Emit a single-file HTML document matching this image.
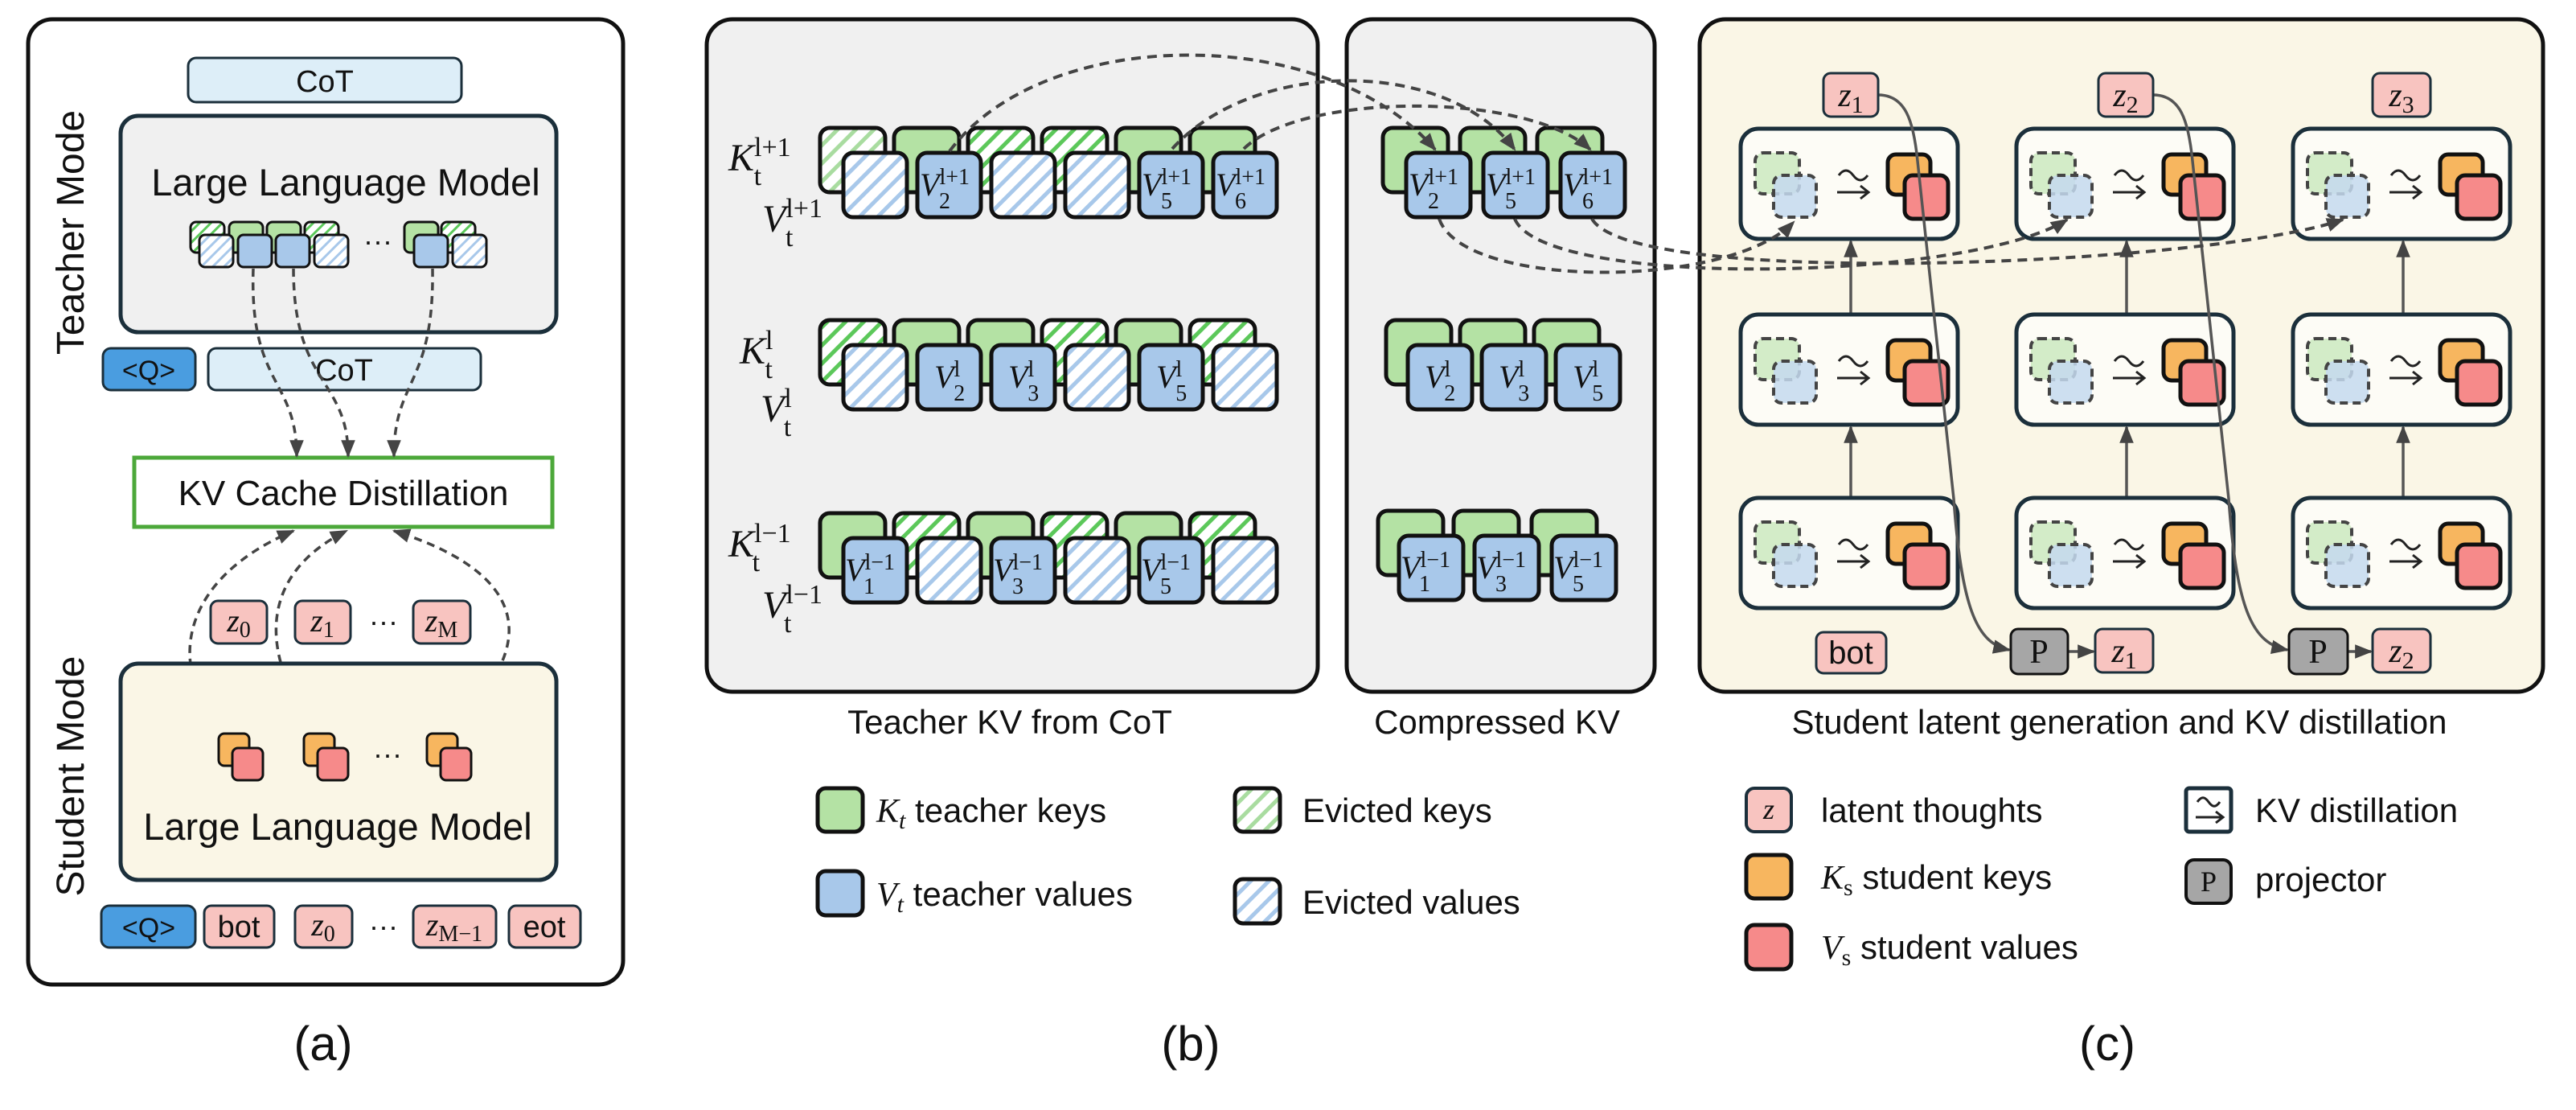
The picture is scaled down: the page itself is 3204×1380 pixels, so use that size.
<!DOCTYPE html>
<html><head><meta charset="utf-8"><style>
html,body{margin:0;padding:0;background:#fff}
svg{display:block}
text{font-family:"Liberation Sans",sans-serif;fill:#111}
.s{font-family:"Liberation Serif",serif}
</style></head><body>
<svg width="3204" height="1380" viewBox="0 0 3204 1380" xmlns="http://www.w3.org/2000/svg">
<defs>
<pattern id="hg" width="16" height="16" patternUnits="userSpaceOnUse" patternTransform="rotate(45)"><rect width="16" height="16" fill="#fff"/><rect width="5" height="16" fill="#5cc85a"/></pattern>
<pattern id="hgl" width="16" height="16" patternUnits="userSpaceOnUse" patternTransform="rotate(45)"><rect width="16" height="16" fill="#fff"/><rect width="5" height="16" fill="#a9dca0"/></pattern>
<pattern id="hb" width="16" height="16" patternUnits="userSpaceOnUse" patternTransform="rotate(45)"><rect width="16" height="16" fill="#fff"/><rect width="5" height="16" fill="#a8c8ea"/></pattern>
<pattern id="hgs" width="10" height="10" patternUnits="userSpaceOnUse" patternTransform="rotate(45)"><rect width="10" height="10" fill="#fff"/><rect width="3" height="10" fill="#5cc85a"/></pattern>
<pattern id="hbs" width="10" height="10" patternUnits="userSpaceOnUse" patternTransform="rotate(45)"><rect width="10" height="10" fill="#fff"/><rect width="3" height="10" fill="#a8c8ea"/></pattern>
<marker id="ah" viewBox="0 0 20 20" refX="18" refY="10" markerWidth="22" markerHeight="22" markerUnits="userSpaceOnUse" orient="auto"><path d="M0,2 L20,10 L0,18 z" fill="#444"/></marker>
<g id="cell">
<rect x="0" y="0" width="270" height="137" rx="22" fill="#fdfcf6" stroke="#1b2f3b" stroke-width="5"/>
<rect x="18" y="30" width="55" height="51" rx="10" fill="#d3ecc8" stroke="#444" stroke-width="4" stroke-dasharray="10,6"/>
<rect x="41" y="58" width="53" height="52" rx="10" fill="#c4d9ee" fill-opacity="0.85" stroke="#444" stroke-width="4" stroke-dasharray="10,6"/>
<path d="M122,58 c6,-8 12,-8 18,0 s12,8 18,0" stroke="#222" stroke-width="3" fill="none"/>
<path d="M120,79 L158,79 M149,71 L159,79 L149,87" stroke="#222" stroke-width="3" fill="none"/>
<rect x="183" y="32" width="53" height="50" rx="10" fill="#f7b65f" stroke="#111" stroke-width="5"/>
<rect x="204" y="58" width="54" height="54" rx="10" fill="#f68a8a" stroke="#111" stroke-width="5"/>
</g>
</defs>

<!-- ===== Panel (a) ===== -->
<rect x="35" y="24" width="740" height="1200" rx="30" fill="#fff" stroke="#111" stroke-width="5"/>
<text transform="translate(104,289) rotate(-90)" font-size="48" text-anchor="middle">Teacher Mode</text>
<text transform="translate(104,965) rotate(-90)" font-size="48" text-anchor="middle">Student Mode</text>
<rect x="234" y="72" width="340" height="55" rx="10" fill="#ddeef8" stroke="#1b2f3b" stroke-width="3"/>
<text x="404" y="114" font-size="38" text-anchor="middle">CoT</text>
<rect x="150" y="144" width="542" height="269" rx="22" fill="#f0f0f0" stroke="#1b2f3b" stroke-width="5"/>
<text x="430" y="243" font-size="47" text-anchor="middle">Large Language Model</text>
<g stroke="#111" stroke-width="3">
<rect x="237" y="276" width="42" height="38" rx="7" fill="url(#hgs)"/>
<rect x="285" y="276" width="42" height="38" rx="7" fill="#b4e2a4"/>
<rect x="332" y="276" width="42" height="38" rx="7" fill="#b4e2a4"/>
<rect x="379" y="276" width="42" height="38" rx="7" fill="url(#hgs)"/>
<rect x="503" y="276" width="42" height="38" rx="7" fill="#b4e2a4"/>
<rect x="549" y="276" width="42" height="38" rx="7" fill="url(#hgs)"/>
<rect x="248" y="292" width="42" height="40" rx="7" fill="url(#hbs)"/>
<rect x="296" y="292" width="42" height="40" rx="7" fill="#a8c8ea"/>
<rect x="343" y="292" width="42" height="40" rx="7" fill="#a8c8ea"/>
<rect x="391" y="292" width="42" height="40" rx="7" fill="url(#hbs)"/>
<rect x="515" y="292" width="42" height="40" rx="7" fill="#a8c8ea"/>
<rect x="563" y="292" width="42" height="40" rx="7" fill="url(#hbs)"/>
</g>
<text x="470" y="312" font-size="36" text-anchor="middle">···</text>
<rect x="128" y="433" width="115" height="52" rx="10" fill="#4a9de0" stroke="#1b2f3b" stroke-width="3"/>
<text x="185" y="472" font-size="34" text-anchor="middle">&lt;Q&gt;</text>
<rect x="259" y="433" width="339" height="52" rx="10" fill="#ddeef8" stroke="#1b2f3b" stroke-width="3"/>
<text x="428" y="473" font-size="38" text-anchor="middle">CoT</text>
<rect x="167" y="569" width="520" height="86" fill="#fff" stroke="#4ca83a" stroke-width="5"/>
<text x="427" y="628" font-size="44" text-anchor="middle">KV Cache Distillation</text>
<g fill="none" stroke="#444" stroke-width="3.5" stroke-dasharray="10,7" marker-end="url(#ah)">
<path d="M315,334 C310,480 369,470 369,567"/>
<path d="M365,334 C365,480 433,470 433,567"/>
<path d="M538,334 C540,480 490,470 490,567"/>
<path d="M290,913 C215,860 200,730 365,660"/>
<path d="M397,913 C330,830 310,720 431,660"/>
<path d="M551,913 C660,820 680,720 490,660"/>
</g>
<g stroke="#1b2f3b" stroke-width="3" fill="#f8c4c0">
<rect x="262" y="747" width="70" height="53" rx="9"/>
<rect x="367" y="747" width="69" height="53" rx="9"/>
<rect x="514" y="747" width="71" height="53" rx="9"/>
</g>
<text class="s" x="297" y="785" font-size="40" text-anchor="middle"><tspan font-style="italic">z</tspan><tspan font-size="28" dy="7">0</tspan></text>
<text class="s" x="401" y="785" font-size="40" text-anchor="middle"><tspan font-style="italic">z</tspan><tspan font-size="28" dy="7">1</tspan></text>
<text class="s" x="549" y="785" font-size="40" text-anchor="middle"><tspan font-style="italic">z</tspan><tspan font-size="28" dy="7">M</tspan></text>
<text x="477" y="785" font-size="36" text-anchor="middle">···</text>
<rect x="150" y="825" width="542" height="269" rx="22" fill="#faf6e6" stroke="#1b2f3b" stroke-width="5"/>
<g stroke="#111" stroke-width="3">
<rect x="272" y="912" width="38" height="40" rx="7" fill="#f7b65f"/>
<rect x="289" y="930" width="38" height="40" rx="7" fill="#f68a8a"/>
<rect x="378" y="912" width="38" height="40" rx="7" fill="#f7b65f"/>
<rect x="395" y="930" width="38" height="40" rx="7" fill="#f68a8a"/>
<rect x="531" y="912" width="38" height="40" rx="7" fill="#f7b65f"/>
<rect x="548" y="930" width="38" height="40" rx="7" fill="#f68a8a"/>
</g>
<text x="482" y="950" font-size="36" text-anchor="middle">···</text>
<text x="420" y="1044" font-size="47" text-anchor="middle">Large Language Model</text>
<rect x="126" y="1126" width="117" height="52" rx="10" fill="#4a9de0" stroke="#1b2f3b" stroke-width="3"/>
<text x="185" y="1165" font-size="34" text-anchor="middle">&lt;Q&gt;</text>
<g stroke="#1b2f3b" stroke-width="3" fill="#f8c4c0">
<rect x="254" y="1126" width="87" height="52" rx="9"/>
<rect x="367" y="1126" width="71" height="52" rx="9"/>
<rect x="514" y="1126" width="103" height="52" rx="9"/>
<rect x="633" y="1126" width="89" height="52" rx="9"/>
</g>
<text x="297" y="1165" font-size="38" text-anchor="middle">bot</text>
<text class="s" x="402" y="1163" font-size="40" text-anchor="middle"><tspan font-style="italic">z</tspan><tspan font-size="28" dy="7">0</tspan></text>
<text x="477" y="1164" font-size="36" text-anchor="middle">···</text>
<text class="s" x="565" y="1163" font-size="40" text-anchor="middle"><tspan font-style="italic">z</tspan><tspan font-size="28" dy="7">M−1</tspan></text>
<text x="677" y="1165" font-size="38" text-anchor="middle">eot</text>
<text x="402" y="1318" font-size="60" text-anchor="middle">(a)</text>

<!-- ===== Panel (b) ===== -->
<rect x="879" y="24" width="760" height="836" rx="32" fill="#f0f0f0" stroke="#111" stroke-width="5"/>
<rect x="1675" y="24" width="383" height="836" rx="32" fill="#f0f0f0" stroke="#111" stroke-width="5"/>

<g stroke="#111" stroke-width="5">
<rect x="1020" y="159" width="81" height="80" rx="12" fill="url(#hgl)"/>
<rect x="1112" y="159" width="81" height="80" rx="12" fill="#b4e2a4"/>
<rect x="1204" y="159" width="81" height="80" rx="12" fill="url(#hg)"/>
<rect x="1296" y="159" width="81" height="80" rx="12" fill="url(#hg)"/>
<rect x="1388" y="159" width="81" height="80" rx="12" fill="#b4e2a4"/>
<rect x="1480" y="159" width="81" height="80" rx="12" fill="#b4e2a4"/>
<rect x="1049" y="190" width="79" height="80" rx="12" fill="url(#hb)"/>
<rect x="1141" y="190" width="79" height="80" rx="12" fill="#a8c8ea"/>
<rect x="1233" y="190" width="79" height="80" rx="12" fill="url(#hb)"/>
<rect x="1325" y="190" width="79" height="80" rx="12" fill="url(#hb)"/>
<rect x="1417" y="190" width="79" height="80" rx="12" fill="#a8c8ea"/>
<rect x="1509" y="190" width="79" height="80" rx="12" fill="#a8c8ea"/>
<rect x="1020" y="398" width="81" height="80" rx="12" fill="url(#hg)"/>
<rect x="1112" y="398" width="81" height="80" rx="12" fill="#b4e2a4"/>
<rect x="1204" y="398" width="81" height="80" rx="12" fill="#b4e2a4"/>
<rect x="1296" y="398" width="81" height="80" rx="12" fill="url(#hg)"/>
<rect x="1388" y="398" width="81" height="80" rx="12" fill="#b4e2a4"/>
<rect x="1480" y="398" width="81" height="80" rx="12" fill="url(#hg)"/>
<rect x="1049" y="429" width="79" height="80" rx="12" fill="url(#hb)"/>
<rect x="1141" y="429" width="79" height="80" rx="12" fill="#a8c8ea"/>
<rect x="1233" y="429" width="79" height="80" rx="12" fill="#a8c8ea"/>
<rect x="1325" y="429" width="79" height="80" rx="12" fill="url(#hb)"/>
<rect x="1417" y="429" width="79" height="80" rx="12" fill="#a8c8ea"/>
<rect x="1509" y="429" width="79" height="80" rx="12" fill="url(#hb)"/>
<rect x="1020" y="638" width="81" height="80" rx="12" fill="#b4e2a4"/>
<rect x="1112" y="638" width="81" height="80" rx="12" fill="url(#hg)"/>
<rect x="1204" y="638" width="81" height="80" rx="12" fill="#b4e2a4"/>
<rect x="1296" y="638" width="81" height="80" rx="12" fill="url(#hg)"/>
<rect x="1388" y="638" width="81" height="80" rx="12" fill="#b4e2a4"/>
<rect x="1480" y="638" width="81" height="80" rx="12" fill="url(#hg)"/>
<rect x="1049" y="669" width="79" height="80" rx="12" fill="#a8c8ea"/>
<rect x="1141" y="669" width="79" height="80" rx="12" fill="url(#hb)"/>
<rect x="1233" y="669" width="79" height="80" rx="12" fill="#a8c8ea"/>
<rect x="1325" y="669" width="79" height="80" rx="12" fill="url(#hb)"/>
<rect x="1417" y="669" width="79" height="80" rx="12" fill="#a8c8ea"/>
<rect x="1509" y="669" width="79" height="80" rx="12" fill="url(#hb)"/>
<rect x="1720" y="159" width="81" height="80" rx="12" fill="#b4e2a4"/>
<rect x="1816" y="159" width="81" height="80" rx="12" fill="#b4e2a4"/>
<rect x="1912" y="159" width="81" height="80" rx="12" fill="#b4e2a4"/>
<rect x="1749" y="190" width="80" height="80" rx="12" fill="#a8c8ea"/>
<rect x="1845" y="190" width="80" height="80" rx="12" fill="#a8c8ea"/>
<rect x="1941" y="190" width="80" height="80" rx="12" fill="#a8c8ea"/>
<rect x="1724" y="398" width="81" height="80" rx="12" fill="#b4e2a4"/>
<rect x="1816" y="398" width="81" height="80" rx="12" fill="#b4e2a4"/>
<rect x="1908" y="398" width="81" height="80" rx="12" fill="#b4e2a4"/>
<rect x="1751" y="429" width="80" height="80" rx="12" fill="#a8c8ea"/>
<rect x="1843" y="429" width="80" height="80" rx="12" fill="#a8c8ea"/>
<rect x="1935" y="429" width="80" height="80" rx="12" fill="#a8c8ea"/>
<rect x="1714" y="635" width="81" height="80" rx="12" fill="#b4e2a4"/>
<rect x="1808" y="635" width="81" height="80" rx="12" fill="#b4e2a4"/>
<rect x="1905" y="635" width="81" height="80" rx="12" fill="#b4e2a4"/>
<rect x="1740" y="666" width="80" height="80" rx="12" fill="#a8c8ea"/>
<rect x="1834" y="666" width="80" height="80" rx="12" fill="#a8c8ea"/>
<rect x="1930" y="666" width="80" height="80" rx="12" fill="#a8c8ea"/>
</g>

<!-- value labels -->
<g>
<text class="s" x="1144" y="243" font-size="40"><tspan font-style="italic">V</tspan><tspan font-size="28" dy="-14">l+1</tspan><tspan font-size="28" dx="-38" dy="30">2</tspan></text>
<text class="s" x="1420" y="243" font-size="40"><tspan font-style="italic">V</tspan><tspan font-size="28" dy="-14">l+1</tspan><tspan font-size="28" dx="-38" dy="30">5</tspan></text>
<text class="s" x="1512" y="243" font-size="40"><tspan font-style="italic">V</tspan><tspan font-size="28" dy="-14">l+1</tspan><tspan font-size="28" dx="-38" dy="30">6</tspan></text>
<text class="s" x="1752" y="243" font-size="40"><tspan font-style="italic">V</tspan><tspan font-size="28" dy="-14">l+1</tspan><tspan font-size="28" dx="-38" dy="30">2</tspan></text>
<text class="s" x="1848" y="243" font-size="40"><tspan font-style="italic">V</tspan><tspan font-size="28" dy="-14">l+1</tspan><tspan font-size="28" dx="-38" dy="30">5</tspan></text>
<text class="s" x="1944" y="243" font-size="40"><tspan font-style="italic">V</tspan><tspan font-size="28" dy="-14">l+1</tspan><tspan font-size="28" dx="-38" dy="30">6</tspan></text>
<text class="s" x="1162" y="482" font-size="40"><tspan font-style="italic">V</tspan><tspan font-size="28" dy="-14">l</tspan><tspan font-size="28" dx="-8" dy="30">2</tspan></text>
<text class="s" x="1254" y="482" font-size="40"><tspan font-style="italic">V</tspan><tspan font-size="28" dy="-14">l</tspan><tspan font-size="28" dx="-8" dy="30">3</tspan></text>
<text class="s" x="1438" y="482" font-size="40"><tspan font-style="italic">V</tspan><tspan font-size="28" dy="-14">l</tspan><tspan font-size="28" dx="-8" dy="30">5</tspan></text>
<text class="s" x="1772" y="482" font-size="40"><tspan font-style="italic">V</tspan><tspan font-size="28" dy="-14">l</tspan><tspan font-size="28" dx="-8" dy="30">2</tspan></text>
<text class="s" x="1864" y="482" font-size="40"><tspan font-style="italic">V</tspan><tspan font-size="28" dy="-14">l</tspan><tspan font-size="28" dx="-8" dy="30">3</tspan></text>
<text class="s" x="1956" y="482" font-size="40"><tspan font-style="italic">V</tspan><tspan font-size="28" dy="-14">l</tspan><tspan font-size="28" dx="-8" dy="30">5</tspan></text>
<text class="s" x="1051" y="722" font-size="40"><tspan font-style="italic">V</tspan><tspan font-size="28" dy="-14">l−1</tspan><tspan font-size="28" dx="-38" dy="30">1</tspan></text>
<text class="s" x="1235" y="722" font-size="40"><tspan font-style="italic">V</tspan><tspan font-size="28" dy="-14">l−1</tspan><tspan font-size="28" dx="-38" dy="30">3</tspan></text>
<text class="s" x="1419" y="722" font-size="40"><tspan font-style="italic">V</tspan><tspan font-size="28" dy="-14">l−1</tspan><tspan font-size="28" dx="-38" dy="30">5</tspan></text>
<text class="s" x="1742" y="719" font-size="40"><tspan font-style="italic">V</tspan><tspan font-size="28" dy="-14">l−1</tspan><tspan font-size="28" dx="-38" dy="30">1</tspan></text>
<text class="s" x="1836" y="719" font-size="40"><tspan font-style="italic">V</tspan><tspan font-size="28" dy="-14">l−1</tspan><tspan font-size="28" dx="-38" dy="30">3</tspan></text>
<text class="s" x="1932" y="719" font-size="40"><tspan font-style="italic">V</tspan><tspan font-size="28" dy="-14">l−1</tspan><tspan font-size="28" dx="-38" dy="30">5</tspan></text>
</g>
<!-- row labels -->
<text class="s" x="906" y="212" font-size="48"><tspan font-style="italic">K</tspan><tspan font-size="34" dy="-18">l+1</tspan><tspan font-size="34" dx="-46" dy="36">t</tspan></text>
<text class="s" x="948" y="288" font-size="48"><tspan font-style="italic">V</tspan><tspan font-size="34" dy="-18">l+1</tspan><tspan font-size="34" dx="-46" dy="36">t</tspan></text>
<text class="s" x="920" y="452" font-size="48"><tspan font-style="italic">K</tspan><tspan font-size="34" dy="-18">l</tspan><tspan font-size="34" dx="-10" dy="36">t</tspan></text>
<text class="s" x="946" y="524" font-size="48"><tspan font-style="italic">V</tspan><tspan font-size="34" dy="-18">l</tspan><tspan font-size="34" dx="-10" dy="36">t</tspan></text>
<text class="s" x="906" y="692" font-size="48"><tspan font-style="italic">K</tspan><tspan font-size="34" dy="-18">l−1</tspan><tspan font-size="34" dx="-48" dy="36">t</tspan></text>
<text class="s" x="948" y="768" font-size="48"><tspan font-style="italic">V</tspan><tspan font-size="34" dy="-18">l−1</tspan><tspan font-size="34" dx="-48" dy="36">t</tspan></text>

<!-- ===== Panel (c) ===== -->
<rect x="2114" y="24" width="1049" height="836" rx="32" fill="#faf6e6" stroke="#111" stroke-width="5"/>
<g stroke="#555" stroke-width="3.5" fill="none" marker-end="url(#ah)">
<path d="M2302,391 L2302,300"/><path d="M2302,619 L2302,531"/>
<path d="M2645,391 L2645,300"/><path d="M2645,619 L2645,531"/>
<path d="M2989,391 L2989,300"/><path d="M2989,619 L2989,531"/>
</g>
<use href="#cell" x="2165" y="160"/><use href="#cell" x="2508" y="160"/><use href="#cell" x="2852" y="160"/>
<use href="#cell" x="2165" y="391"/><use href="#cell" x="2508" y="391"/><use href="#cell" x="2852" y="391"/>
<use href="#cell" x="2165" y="619"/><use href="#cell" x="2508" y="619"/><use href="#cell" x="2852" y="619"/>
<g stroke="#555" stroke-width="3.5" fill="none" marker-end="url(#ah)">
<path d="M2336,118 C2370,118 2380,150 2385,200 L2430,620 C2440,760 2460,800 2499,808"/>
<path d="M2678,118 C2712,118 2722,150 2727,200 L2772,620 C2782,760 2802,800 2845,808"/>
<path d="M2572,810 L2604,810"/>
<path d="M2920,810 L2949,810"/>
</g>
<g stroke="#1b2f3b" stroke-width="3" fill="#f8c4c0">
<rect x="2268" y="91" width="68" height="54" rx="9"/>
<rect x="2610" y="91" width="68" height="54" rx="9"/>
<rect x="2951" y="91" width="72" height="54" rx="9"/>
<rect x="2259" y="786" width="87" height="51" rx="9"/>
<rect x="2606" y="782" width="72" height="54" rx="9"/>
<rect x="2951" y="782" width="72" height="54" rx="9"/>
</g>
<g stroke="#111" stroke-width="3" fill="#a6a6a6">
<rect x="2501" y="782" width="71" height="56" rx="9"/>
<rect x="2847" y="782" width="73" height="56" rx="9"/>
</g>
<text class="s" x="2302" y="132" font-size="42" text-anchor="middle"><tspan font-style="italic">z</tspan><tspan font-size="30" dy="8">1</tspan></text>
<text class="s" x="2644" y="132" font-size="42" text-anchor="middle"><tspan font-style="italic">z</tspan><tspan font-size="30" dy="8">2</tspan></text>
<text class="s" x="2987" y="132" font-size="42" text-anchor="middle"><tspan font-style="italic">z</tspan><tspan font-size="30" dy="8">3</tspan></text>
<text x="2302" y="825" font-size="40" text-anchor="middle">bot</text>
<text class="s" x="2536" y="824" font-size="42" text-anchor="middle">P</text>
<text class="s" x="2883" y="824" font-size="42" text-anchor="middle">P</text>
<text class="s" x="2642" y="823" font-size="42" text-anchor="middle"><tspan font-style="italic">z</tspan><tspan font-size="30" dy="8">1</tspan></text>
<text class="s" x="2987" y="823" font-size="42" text-anchor="middle"><tspan font-style="italic">z</tspan><tspan font-size="30" dy="8">2</tspan></text>

<g fill="none" stroke="#444" stroke-width="4" stroke-dasharray="12,8" marker-end="url(#ah)">
<path d="M1181,188 C1300,29 1650,29 1785,186"/>
<path d="M1458,185 C1560,72 1800,72 1884,186"/>
<path d="M1547,185 C1620,114 1900,114 1978,186"/>
<path d="M1790,272 C1820,360 2150,360 2231,276"/>
<path d="M1884,272 C1920,360 2450,350 2571,273"/>
<path d="M1980,272 C2030,360 2750,330 2914,273"/>
</g>

<text x="1256" y="912" font-size="42" text-anchor="middle">Teacher KV from CoT</text>
<text x="1862" y="912" font-size="42" text-anchor="middle">Compressed KV</text>
<text x="2636" y="912" font-size="42" text-anchor="middle">Student latent generation and KV distillation</text>
<text x="1481" y="1318" font-size="60" text-anchor="middle">(b)</text>
<text x="2621" y="1318" font-size="60" text-anchor="middle">(c)</text>

<g stroke="#111" stroke-width="5">
<rect x="1017" y="980" width="56" height="54" rx="10" fill="#b4e2a4"/>
<rect x="1017" y="1083" width="56" height="55" rx="10" fill="#a8c8ea"/>
<rect x="1536" y="980" width="56" height="54" rx="10" fill="url(#hgl)"/>
<rect x="1536" y="1093" width="56" height="55" rx="10" fill="url(#hb)"/>
</g>
<text x="1090" y="1022" font-size="42"><tspan font-family="Liberation Serif" font-style="italic">K</tspan><tspan font-family="Liberation Serif" font-style="italic" font-size="30" dy="8">t</tspan><tspan dy="-8"> teacher keys</tspan></text>
<text x="1090" y="1126" font-size="42"><tspan font-family="Liberation Serif" font-style="italic">V</tspan><tspan font-family="Liberation Serif" font-style="italic" font-size="30" dy="8">t</tspan><tspan dy="-8"> teacher values</tspan></text>
<text x="1620" y="1022" font-size="42">Evicted keys</text>
<text x="1620" y="1136" font-size="42">Evicted values</text>

<rect x="2172" y="980" width="56" height="54" rx="10" fill="#f8c4c0" stroke="#1b2f3b" stroke-width="4"/>
<text class="s" x="2200" y="1018" font-size="36" font-style="italic" text-anchor="middle">z</text>
<rect x="2172" y="1063" width="56" height="54" rx="10" fill="#f7b65f" stroke="#111" stroke-width="5"/>
<rect x="2172" y="1150" width="56" height="55" rx="10" fill="#f68a8a" stroke="#111" stroke-width="5"/>
<text x="2265" y="1022" font-size="42">latent thoughts</text>
<text x="2265" y="1105" font-size="42"><tspan font-family="Liberation Serif" font-style="italic">K</tspan><tspan font-family="Liberation Serif" font-size="30" dy="8">s</tspan><tspan dy="-8"> student keys</tspan></text>
<text x="2265" y="1192" font-size="42"><tspan font-family="Liberation Serif" font-style="italic">V</tspan><tspan font-family="Liberation Serif" font-size="30" dy="8">s</tspan><tspan dy="-8"> student values</tspan></text>
<rect x="2719" y="980" width="56" height="54" rx="4" fill="#fff" stroke="#1b2f3b" stroke-width="5"/>
<path d="M2733,997 c5,-7 9,-7 14,0 s9,7 14,0" stroke="#222" stroke-width="3" fill="none"/>
<path d="M2731,1016 L2764,1016 M2756,1009 L2765,1016 L2756,1023" stroke="#222" stroke-width="3" fill="none"/>
<text x="2805" y="1022" font-size="42">KV distillation</text>
<rect x="2719" y="1069" width="56" height="54" rx="10" fill="#a6a6a6" stroke="#111" stroke-width="4"/>
<text class="s" x="2747" y="1108" font-size="36" text-anchor="middle">P</text>
<text x="2805" y="1108" font-size="42">projector</text>
</svg>
</body></html>
